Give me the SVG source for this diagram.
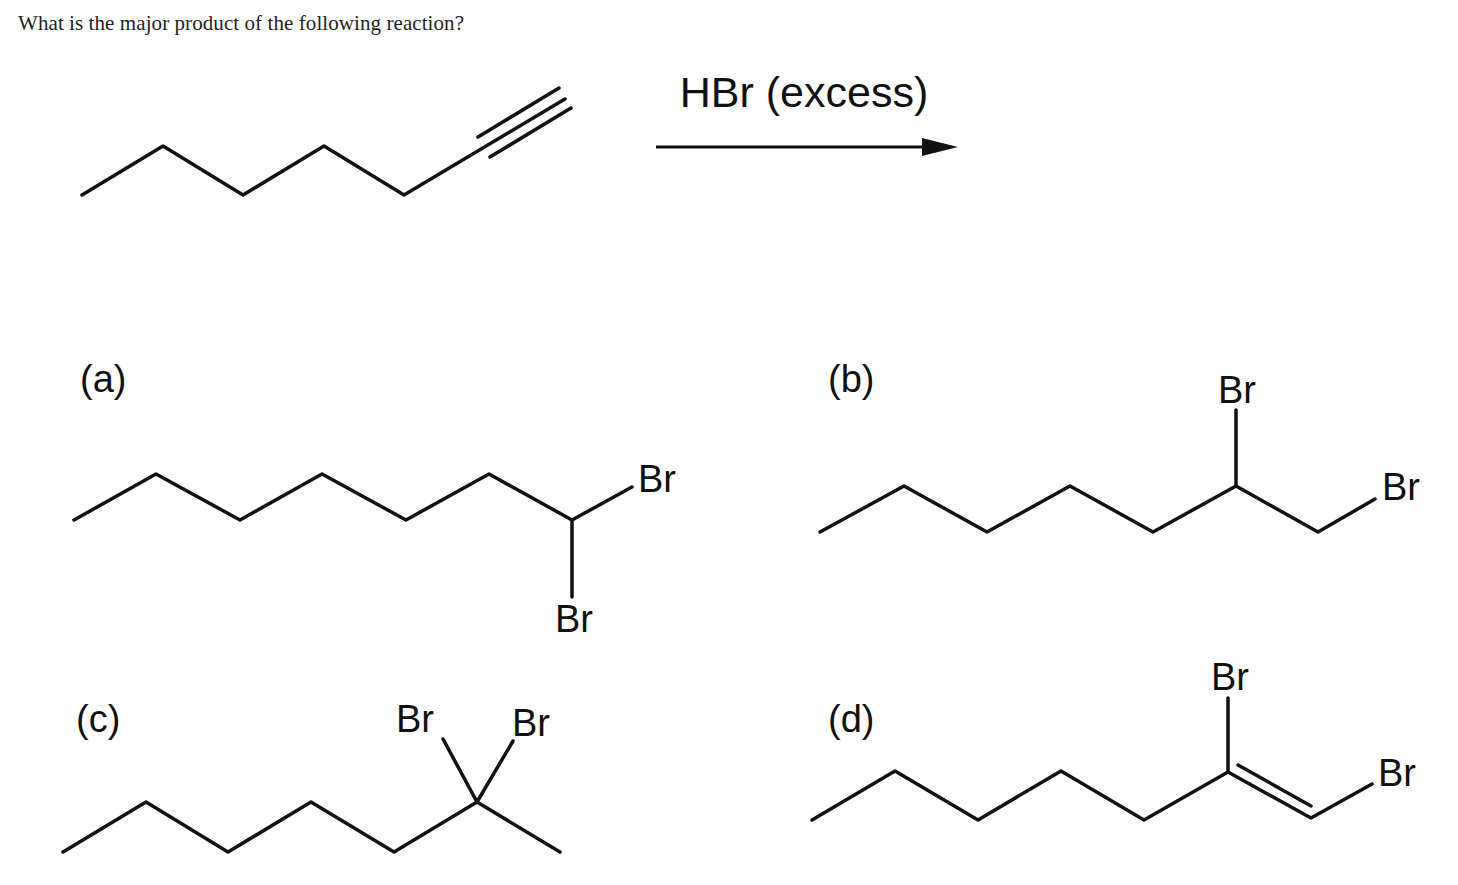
<svg xmlns="http://www.w3.org/2000/svg" width="1458" height="885" viewBox="0 0 1458 885">
<style>
.b{fill:none;stroke:#111;stroke-width:3.5;stroke-linecap:round;stroke-linejoin:round}
.t{font-family:"Liberation Sans",Arial,sans-serif;font-size:38px;fill:#111}
.q{font-family:"Liberation Serif","Times New Roman",serif;font-size:21px;fill:#222}
</style>
<rect width="1458" height="885" fill="#fff"/>
<text class="q" x="18" y="30" textLength="446">What is the major product of the following reaction?</text>
<g id="reactant">
<polyline class="b" points="82,195 163,146 243,195 324,146 404,195 565,99"/>
<line class="b" x1="478" y1="137" x2="559" y2="88"/>
<line class="b" x1="490" y1="157" x2="571" y2="108"/>
</g>
<g id="connectors">
<line x1="656" y1="147" x2="925" y2="147" stroke="#111" stroke-width="3"/>
<path d="M922,138 L958,147 L922,156 Z" fill="#111"/>
<text class="t" x="804" y="107" text-anchor="middle" style="font-size:43px">HBr (excess)</text>
</g>
<g id="a">
<text class="t" x="80" y="392">(a)</text>
<polyline class="b" points="74,520 156,474 240,520 322,474 406,520 489,474 572,520 632,487"/>
<line class="b" x1="572" y1="520" x2="572" y2="597"/>
<text class="t" x="638" y="492">Br</text>
<text class="t" x="555" y="632">Br</text>
</g>
<g id="b">
<text class="t" x="828" y="392">(b)</text>
<polyline class="b" points="820,532 904,486 987,532 1070,486 1153,532 1236,486 1318,532 1375,499"/>
<line class="b" x1="1236" y1="486" x2="1236" y2="410"/>
<text class="t" x="1218" y="403">Br</text>
<text class="t" x="1382" y="500">Br</text>
</g>
<g id="c">
<text class="t" x="76" y="732">(c)</text>
<polyline class="b" points="63,852 146,802 228,852 311,802 394,852 477,802 560,852"/>
<line class="b" x1="477" y1="802" x2="443" y2="739"/>
<line class="b" x1="477" y1="802" x2="513" y2="741"/>
<text class="t" x="396" y="732">Br</text>
<text class="t" x="512" y="736">Br</text>
</g>
<g id="d">
<text class="t" x="828" y="732">(d)</text>
<polyline class="b" points="812,820 895,771 978,820 1061,771 1144,820 1228,772 1311,818 1372,784"/>
<line class="b" x1="1238" y1="765" x2="1311" y2="806"/>
<line class="b" x1="1228" y1="772" x2="1228" y2="698"/>
<text class="t" x="1211" y="690">Br</text>
<text class="t" x="1378" y="786">Br</text>
</g>
</svg>
